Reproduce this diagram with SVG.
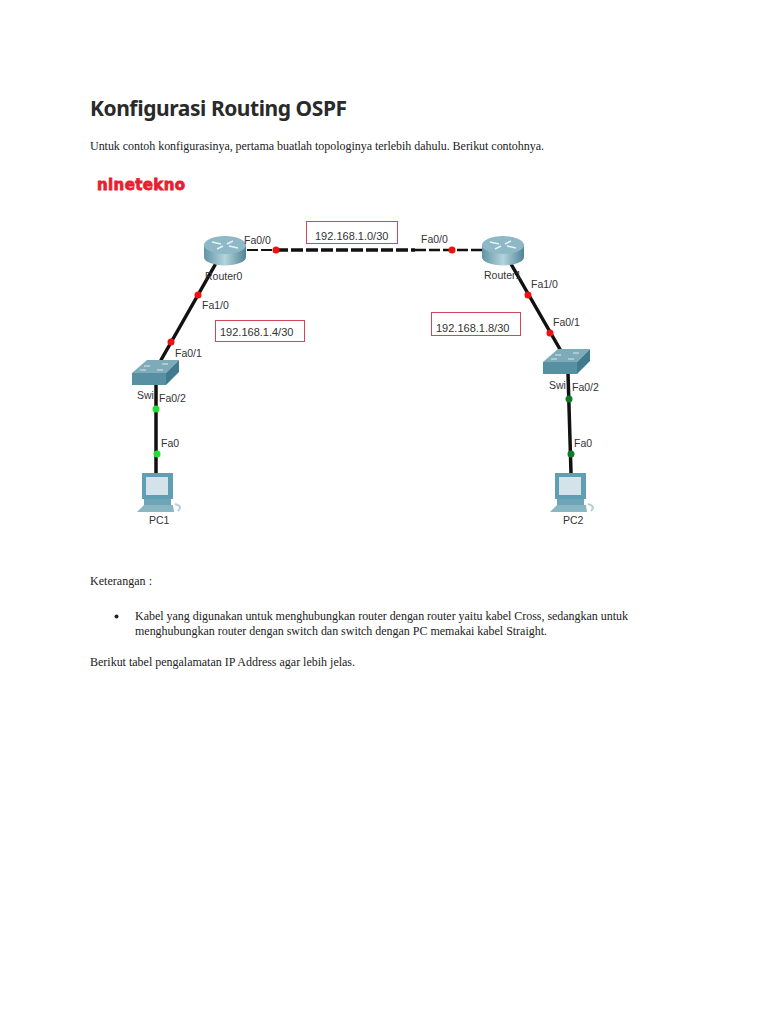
<svg xmlns="http://www.w3.org/2000/svg" width="768" height="1024" viewBox="0 0 768 1024">
<defs>
<linearGradient id="rt" x1="0" x2="1" y1="0" y2="0"><stop offset="0" stop-color="#5f94a6"/><stop offset=".5" stop-color="#b5d4dc"/><stop offset="1" stop-color="#4f8497"/></linearGradient>
<g id="router"><path d="M-21 -5V7A21 8.500 0 0 0 21 7V-5Z" fill="url(#rt)"/><ellipse cx="0" cy="-5" rx="21" ry="9" fill="#8fb8c6"/><path d="M-13 -8L-4 -6M13 -2L4 -4M-8 -1L-2 -4M8 -9L2 -6" stroke="#e6f2f5" stroke-width="1.500" fill="none"/></g>
<g id="switch"><path d="M-26 -1L-11 -14H21L8 -1Z" fill="#7fabb9"/><path d="M-26 -1H8V11H-26Z" fill="#578fa3"/><path d="M8 -1L21 -14V-2L8 11Z" fill="#3f7a8f"/><path d="M-14 -8H-8M4 -10H10M-18 -4H-12M-1 -4H5" stroke="#d9e8ec" stroke-width="1"/></g>
<g id="pc"><path d="M-15 -21H16V5H-15Z" fill="#5f9fb3"/><path d="M-11 -17H11V1H-11Z" fill="#d4e3ea"/><path d="M-13 5H14V11H-13Z" fill="#6ea5b6"/><path d="M-20 18L-13 11H16L17 18Z" fill="#8ab6c4"/><path d="M18 10Q26 12 21 17" stroke="#b7cfd7" stroke-width="2" fill="none"/></g>
</defs>
<style>
.doc{font-family:"Liberation Serif",serif;font-size:12px;fill:#222}
.lab{font-family:"Liberation Sans",sans-serif;font-size:10.500px;fill:#333}
.box{fill:#fff;stroke:#cf4a55;stroke-width:1}
.ip{font-family:"Liberation Sans",sans-serif;font-size:11px;fill:#333}
.solid{stroke:#111;stroke-width:3.500;fill:none;stroke-linecap:round}
.dash{stroke:#111;stroke-width:3.500;fill:none;stroke-dasharray:12 3}
</style>
<rect width="768" height="1024" fill="#fff"/>
<text x="90" y="116" font-family="'Noto Sans',sans-serif" font-size="21" font-weight="700" fill="#2a2a2a" textLength="257">Konfigurasi Routing OSPF</text>
<text class="doc" x="90" y="150" textLength="454">Untuk contoh konfigurasinya, pertama buatlah topologinya terlebih dahulu. Berikut contohnya.</text>
<text x="97" y="190" font-family="'DejaVu Sans',sans-serif" font-size="15" font-weight="700" fill="#e8202e" stroke="#e8202e" stroke-width=".8" textLength="88">ninetekno</text>
<g id="connectors">
<path d="M247 250H276" stroke="#111" stroke-width="2" stroke-dasharray="11 3" fill="none"/><path class="dash" d="M276 250H415"/><path d="M415 250H482" stroke="#111" stroke-width="2.500" stroke-dasharray="11 3" fill="none"/>
<path class="solid" d="M215 265L161 360"/>
<path class="solid" d="M511 264L561 351"/>
<path class="solid" d="M156 385V473"/>
<path class="solid" d="M568 373L571 473"/>
<g fill="#f01010"><circle cx="276" cy="250" r="3.500"/><circle cx="452" cy="250" r="3.500"/><circle cx="198" cy="295" r="3.500"/><circle cx="171" cy="342" r="3.500"/><circle cx="528" cy="295" r="3.500"/><circle cx="550" cy="333" r="3.500"/></g>
<g fill="#22e030"><circle cx="156" cy="409" r="3.500"/><circle cx="157" cy="454" r="3.500"/></g>
<g fill="#0f7a28"><circle cx="569" cy="399" r="3.500"/><circle cx="571" cy="454" r="3.500"/></g>
</g>
<g id="router0"><use href="#router" x="225" y="250"/><text class="lab" x="205" y="280">Router0</text></g>
<g id="router1"><use href="#router" x="503" y="250"/><text class="lab" x="484" y="279">Router1</text></g>
<g id="switch0"><use href="#switch" x="158" y="374"/><text class="lab" x="137" y="399">Swi</text></g>
<g id="switch1"><use href="#switch" x="569" y="363"/><text class="lab" x="549" y="389">Swi</text></g>
<g id="pc1"><use href="#pc" x="157" y="494"/><text class="lab" x="149" y="524">PC1</text></g>
<g id="pc2"><use href="#pc" x="570" y="494"/><text class="lab" x="563" y="524">PC2</text></g>
<g id="labels">
<text class="lab" x="244" y="244">Fa0/0</text><text class="lab" x="421" y="243">Fa0/0</text>
<text class="lab" x="202" y="309">Fa1/0</text><text class="lab" x="531" y="288">Fa1/0</text>
<text class="lab" x="175" y="357">Fa0/1</text><text class="lab" x="553" y="326">Fa0/1</text>
<text class="lab" x="159" y="402">Fa0/2</text><text class="lab" x="572" y="391">Fa0/2</text>
<text class="lab" x="161" y="447">Fa0</text><text class="lab" x="574" y="447">Fa0</text>
</g>
<g id="ip-0"><rect class="box" x="306.500" y="221.500" width="91" height="22"/><text class="ip" x="315" y="240">192.168.1.0/30</text></g>
<g id="ip-4"><rect class="box" x="215.500" y="320.500" width="89" height="21"/><text class="ip" x="220" y="336">192.168.1.4/30</text></g>
<g id="ip-8"><rect class="box" x="431.500" y="312.500" width="89" height="23"/><text class="ip" x="436" y="332">192.168.1.8/30</text></g>
<text class="doc" x="90" y="585" textLength="62">Keterangan :</text>
<circle cx="116.500" cy="616.500" r="2" fill="#222"/>
<text class="doc" x="135" y="620" textLength="493">Kabel yang digunakan untuk menghubungkan router dengan router yaitu kabel Cross, sedangkan untuk</text>
<text class="doc" x="135" y="635" textLength="412">menghubungkan router dengan switch dan switch dengan PC memakai kabel Straight.</text>
<text class="doc" x="90" y="666" textLength="265">Berikut tabel pengalamatan IP Address agar lebih jelas.</text>
</svg>
